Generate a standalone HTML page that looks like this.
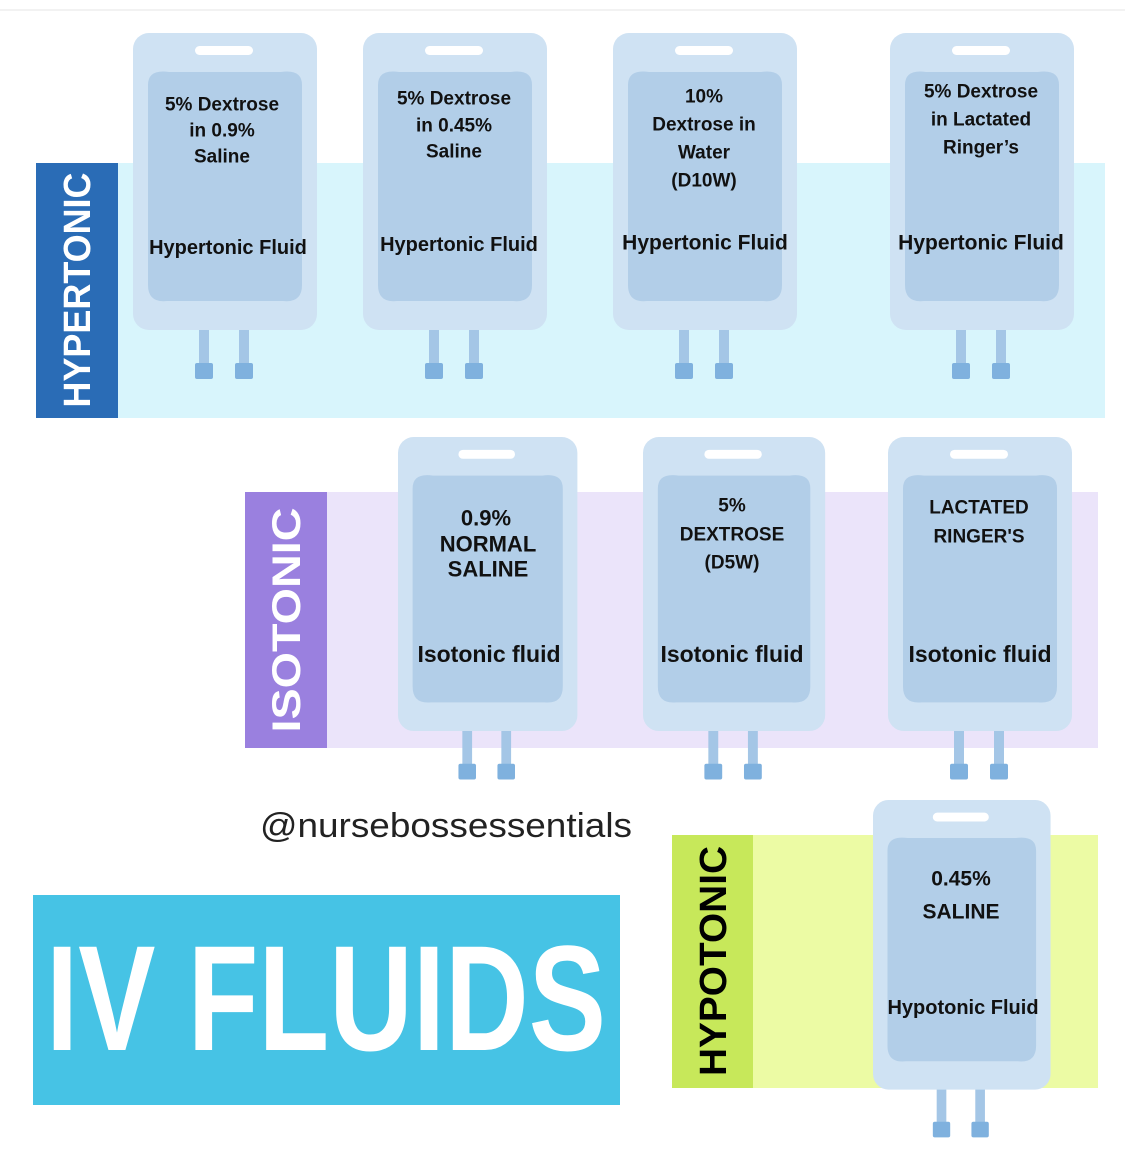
<!DOCTYPE html>
<html><head><meta charset="utf-8"><style>
html,body{margin:0;padding:0;background:#fff}
svg{display:block}
text{font-family:"Liberation Sans",sans-serif}
</style></head><body>
<svg width="1125" height="1169" viewBox="0 0 1125 1169" xmlns="http://www.w3.org/2000/svg">
<defs>
<g id="bag">
<rect x="66" y="295" width="10" height="50" fill="#a4c6e6"/>
<rect x="106" y="295" width="10" height="50" fill="#a4c6e6"/>
<rect x="62" y="330" width="18" height="16" rx="2" fill="#7fb1de"/>
<rect x="102" y="330" width="18" height="16" rx="2" fill="#7fb1de"/>
<rect x="0" y="0" width="184" height="297" rx="16" fill="#cfe2f3"/>
<path d="M15,52 Q15,36 36,39 L148,39 Q169,36 169,52 L169,252 Q169,270 150,268 L34,268 Q15,270 15,252 Z" fill="#b2cee8"/>
<rect x="62" y="13" width="58" height="9" rx="4.5" fill="#fff"/>
</g>
</defs>
<line x1="0" y1="10" x2="1125" y2="10" stroke="#e6e6e6"/>
<!-- bands -->
<rect x="36" y="163" width="1069" height="255" fill="#d8f5fc"/>
<rect x="36" y="163" width="82" height="255" fill="#2a6cb6"/>
<rect x="245" y="492" width="853" height="256" fill="#ebe4fa"/>
<rect x="245" y="492" width="82" height="256" fill="#9a80df"/>
<rect x="672" y="835" width="426" height="253" fill="#ecfba4"/>
<rect x="672" y="835" width="81" height="253" fill="#c7e85a"/>
<text transform="translate(90,290) rotate(-90)" text-anchor="middle" font-size="38" font-weight="900" fill="#fff" textLength="235" lengthAdjust="spacingAndGlyphs">HYPERTONIC</text>
<text transform="translate(300,620) rotate(-90)" text-anchor="middle" font-size="40" font-weight="900" fill="#fff" textLength="225" lengthAdjust="spacingAndGlyphs">ISOTONIC</text>
<text transform="translate(726,961) rotate(-90)" text-anchor="middle" font-size="38" font-weight="900" fill="#000" textLength="230" lengthAdjust="spacingAndGlyphs">HYPOTONIC</text>
<!-- bags -->
<use href="#bag" transform="translate(133,33)"/>
<use href="#bag" transform="translate(363,33)"/>
<use href="#bag" transform="translate(613,33)"/>
<use href="#bag" transform="translate(890,33)"/>
<use href="#bag" transform="translate(398,437) scale(0.975,0.99)"/>
<use href="#bag" transform="translate(643,437) scale(0.99,0.99)"/>
<use href="#bag" transform="translate(888,437) scale(1,0.99)"/>
<use href="#bag" transform="translate(873,800) scale(0.965,0.975)"/>
<g font-weight="bold" font-size="19" text-anchor="middle" dominant-baseline="central" fill="#111">
<text x="222" y="105">5% Dextrose</text><text x="222" y="131">in 0.9%</text><text x="222" y="157">Saline</text>
<text x="228" y="248" font-size="20">Hypertonic Fluid</text>
<text x="454" y="99">5% Dextrose</text><text x="454" y="126">in 0.45%</text><text x="454" y="152">Saline</text>
<text x="459" y="245" font-size="20">Hypertonic Fluid</text>
<text x="704" y="97">10%</text><text x="704" y="125">Dextrose in</text><text x="704" y="153">Water</text><text x="704" y="181">(D10W)</text>
<text x="705" y="243" font-size="21">Hypertonic Fluid</text>
<text x="981" y="92">5% Dextrose</text><text x="981" y="120">in Lactated</text><text x="981" y="148">Ringer’s</text>
<text x="981" y="243" font-size="21">Hypertonic Fluid</text>
<text x="486" y="518" font-size="22">0.9%</text><text x="488" y="544" font-size="22">NORMAL</text><text x="488" y="569" font-size="22">SALINE</text>
<text x="489" y="654" font-size="23">Isotonic fluid</text>
<text x="732" y="506">5%</text><text x="732" y="535">DEXTROSE</text><text x="732" y="563">(D5W)</text>
<text x="732" y="654" font-size="23">Isotonic fluid</text>
<text x="979" y="508">LACTATED</text><text x="979" y="537">RINGER'S</text>
<text x="980" y="654" font-size="23">Isotonic fluid</text>
<text x="961" y="879" font-size="21">0.45%</text><text x="961" y="912" font-size="21">SALINE</text>
<text x="963" y="1008" font-size="20">Hypotonic Fluid</text>
</g>
<text x="260" y="837" font-size="34" fill="#222" textLength="372" lengthAdjust="spacingAndGlyphs">@nursebossessentials</text>
<rect x="33" y="895" width="587" height="210" fill="#46c3e5"/>
<text x="326" y="1050" text-anchor="middle" font-size="150" font-weight="900" fill="#fff" textLength="560" lengthAdjust="spacingAndGlyphs">IV FLUIDS</text>
</svg>
</body></html>
